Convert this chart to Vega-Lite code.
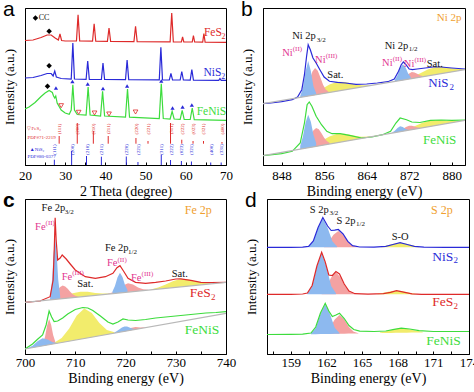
{
"$schema": "https://vega.github.io/schema/vega-lite/v6.json",
"padding": {"left": 2, "top": -2, "right": 0, "bottom": 0},
"config": {
  "view": {"stroke": "black", "strokeWidth": 1},
  "font": "Liberation Serif",
  "axis": {"grid": false, "domainColor": "black", "tickColor": "black", "labelColor": "black", "titleColor": "black", "labelFont": "Liberation Serif", "titleFont": "Liberation Serif", "labelFontSize": 13, "titleFontSize": 14, "titleFontWeight": "normal", "labelOverlap": false, "labelFlush": false},
  "axisY": {"labels": false, "ticks": false, "titleFontSize": 13, "titlePadding": 9},
  "axisX": {"tickSize": -3, "labelPadding": 7, "titlePadding": 2},
  "title": {"font": "Liberation Sans", "fontSize": 21, "fontWeight": "normal", "anchor": "start", "frame": "group", "baseline": "alphabetic", "offset": -12, "dx": -22, "color": "black"}
},
"datasets": {
  "aL": [
    {"s":"FeS2","x":20,"y":124.5},{"s":"FeS2","x":22,"y":125},{"s":"FeS2","x":24,"y":127.5},{"s":"FeS2","x":25.5,"y":130},{"s":"FeS2","x":26.5,"y":130},{"s":"FeS2","x":27.5,"y":127},{"s":"FeS2","x":28.3,"y":125},{"s":"FeS2","x":28.7,"y":131},{"s":"FeS2","x":29.1,"y":124.5},{"s":"FeS2","x":30,"y":124},{"s":"FeS2","x":32.8,"y":124},{"s":"FeS2","x":33.2,"y":150.3},{"s":"FeS2","x":33.6,"y":124},{"s":"FeS2","x":36.8,"y":123.8},{"s":"FeS2","x":37.2,"y":141.3},{"s":"FeS2","x":37.6,"y":123.8},{"s":"FeS2","x":40.5,"y":123.6},{"s":"FeS2","x":40.9,"y":137},{"s":"FeS2","x":41.3,"y":123.6},{"s":"FeS2","x":47.1,"y":123.4},{"s":"FeS2","x":47.5,"y":138.7},{"s":"FeS2","x":47.9,"y":123.4},{"s":"FeS2","x":56.1,"y":123.2},{"s":"FeS2","x":56.5,"y":152},{"s":"FeS2","x":56.9,"y":123.2},{"s":"FeS2","x":58.9,"y":123},{"s":"FeS2","x":59.2,"y":128},{"s":"FeS2","x":59.5,"y":123},{"s":"FeS2","x":61.6,"y":123},{"s":"FeS2","x":61.9,"y":129.3},{"s":"FeS2","x":62.2,"y":123},{"s":"FeS2","x":64.2,"y":122.9},{"s":"FeS2","x":64.5,"y":131.3},{"s":"FeS2","x":64.8,"y":122.9},{"s":"FeS2","x":70,"y":122.7},
    {"s":"NiS2","x":20,"y":87},{"s":"NiS2","x":22,"y":87.5},{"s":"NiS2","x":24,"y":89.5},{"s":"NiS2","x":25.5,"y":91.5},{"s":"NiS2","x":26.5,"y":91.5},{"s":"NiS2","x":27.0,"y":89},{"s":"NiS2","x":27.4,"y":94},{"s":"NiS2","x":27.8,"y":88},{"s":"NiS2","x":29,"y":86.5},{"s":"NiS2","x":31.5,"y":86},{"s":"NiS2","x":31.9,"y":122},{"s":"NiS2","x":32.3,"y":86},{"s":"NiS2","x":35.2,"y":85.7},{"s":"NiS2","x":35.6,"y":104},{"s":"NiS2","x":36.0,"y":85.7},{"s":"NiS2","x":39.0,"y":85.5},{"s":"NiS2","x":39.4,"y":102},{"s":"NiS2","x":39.8,"y":85.5},{"s":"NiS2","x":45.0,"y":85.3},{"s":"NiS2","x":45.4,"y":105},{"s":"NiS2","x":45.8,"y":85.3},{"s":"NiS2","x":53.4,"y":85.1},{"s":"NiS2","x":53.8,"y":117.7},{"s":"NiS2","x":54.2,"y":85.1},{"s":"NiS2","x":55.9,"y":85},{"s":"NiS2","x":56.3,"y":91.5},{"s":"NiS2","x":56.7,"y":85},{"s":"NiS2","x":58.6,"y":85},{"s":"NiS2","x":59.0,"y":93.5},{"s":"NiS2","x":59.4,"y":85},{"s":"NiS2","x":61.1,"y":84.9},{"s":"NiS2","x":61.5,"y":95.3},{"s":"NiS2","x":61.9,"y":84.9},{"s":"NiS2","x":68.2,"y":84.7},{"s":"NiS2","x":68.5,"y":86.5},{"s":"NiS2","x":68.8,"y":84.7},{"s":"NiS2","x":70,"y":84.6},
    {"s":"FeNiS","x":20,"y":56},{"s":"FeNiS","x":21,"y":58},{"s":"FeNiS","x":22.5,"y":62.5},{"s":"FeNiS","x":24,"y":68.5},{"s":"FeNiS","x":25,"y":72},{"s":"FeNiS","x":26,"y":74.5},{"s":"FeNiS","x":26.8,"y":72.5},{"s":"FeNiS","x":27.1,"y":69},{"s":"FeNiS","x":27.4,"y":67},{"s":"FeNiS","x":27.65,"y":69},{"s":"FeNiS","x":28.0,"y":62},{"s":"FeNiS","x":29,"y":55},{"s":"FeNiS","x":30,"y":52},{"s":"FeNiS","x":31,"y":50.8},{"s":"FeNiS","x":31.5,"y":55},{"s":"FeNiS","x":31.9,"y":80.3},{"s":"FeNiS","x":32.3,"y":55},{"s":"FeNiS","x":33,"y":50.5},{"s":"FeNiS","x":35.2,"y":50},{"s":"FeNiS","x":35.7,"y":78},{"s":"FeNiS","x":36.2,"y":50},{"s":"FeNiS","x":38.8,"y":49},{"s":"FeNiS","x":39.3,"y":73.7},{"s":"FeNiS","x":39.8,"y":49},{"s":"FeNiS","x":45.0,"y":47.8},{"s":"FeNiS","x":45.5,"y":76},{"s":"FeNiS","x":46.0,"y":47.8},{"s":"FeNiS","x":53.4,"y":46.5},{"s":"FeNiS","x":53.9,"y":81.3},{"s":"FeNiS","x":54.4,"y":46.5},{"s":"FeNiS","x":56.1,"y":46},{"s":"FeNiS","x":56.6,"y":53.7},{"s":"FeNiS","x":57.1,"y":46},{"s":"FeNiS","x":58.6,"y":45.7},{"s":"FeNiS","x":59.1,"y":54.7},{"s":"FeNiS","x":59.6,"y":45.7},{"s":"FeNiS","x":61.1,"y":45.5},{"s":"FeNiS","x":61.6,"y":57},{"s":"FeNiS","x":62.1,"y":45.3},{"s":"FeNiS","x":70,"y":44.7}
  ],
  "aS": [
    {"c":"FeS2","h":"(111)","x":28.5,"y":29,"lo":21.3},{"c":"FeS2","h":"(200)","x":33.0,"y":42,"lo":21.3},{"c":"FeS2","h":"(210)","x":37.0,"y":34,"lo":21.3},{"c":"FeS2","h":"(211)","x":40.7,"y":29,"lo":21.3},{"c":"FeS2","h":"(220)","x":47.6,"y":27,"lo":21.3},{"c":"FeS2","h":"(221)","x":50.6,"y":24,"lo":21.3},{"c":"FeS2","h":"(311)","x":56.2,"y":42,"lo":21.3},{"c":"FeS2","h":"(222)","x":59.0,"y":25.3,"lo":21.3},{"c":"FeS2","h":"(023)","x":61.8,"y":24,"lo":21.3},{"c":"FeS2","h":"(321)","x":64.4,"y":24,"lo":21.3},{"c":"FeS2","h":"(400)","x":69.0,"y":23,"lo":21.3},
    {"c":"NiS2","h":"(111)","x":27.3,"y":5.3,"lo":0},{"c":"NiS2","h":"(200)","x":31.6,"y":14,"lo":0},{"c":"NiS2","h":"(210)","x":35.3,"y":9,"lo":0},{"c":"NiS2","h":"(211)","x":39.0,"y":8.3,"lo":0},{"c":"NiS2","h":"(220)","x":45.2,"y":8.5,"lo":0},{"c":"NiS2","h":"(221)","x":48.1,"y":3,"lo":0},{"c":"NiS2","h":"(311)","x":53.9,"y":10.3,"lo":0},{"c":"NiS2","h":"(222)","x":56.2,"y":5,"lo":0},{"c":"NiS2","h":"(023)","x":58.9,"y":4,"lo":0},{"c":"NiS2","h":"(321)","x":61.4,"y":3.5,"lo":0},{"c":"NiS2","h":"(400)","x":66.2,"y":2.5,"lo":0},{"c":"NiS2","h":"(331)","x":68.8,"y":2.5,"lo":0}
  ],
  "aP": [
    {"m":"d","x":26.0,"y":133.7},{"m":"d","x":26.0,"y":99.3},{"m":"d","x":25.6,"y":78.7},{"m":"d","x":22.6,"y":147},
    {"m":"u","x":27.7,"y":77},{"m":"u","x":31.8,"y":83.5},{"m":"u","x":35.6,"y":81},{"m":"u","x":39.4,"y":76.5},{"m":"u","x":45.4,"y":79},{"m":"u","x":53.9,"y":84},{"m":"u","x":56.7,"y":57},{"m":"u","x":59.2,"y":58},{"m":"u","x":61.5,"y":60},
    {"m":"v","x":29.0,"y":59.3},{"m":"v","x":33.35,"y":52.7},{"m":"v","x":37.3,"y":52},{"m":"v","x":40.9,"y":51},{"m":"v","x":47.5,"y":53}
  ],
  "aT": [
    {"r":"name","c":"FeS2","t":"FeS","x":64.5,"y":132},{"r":"nsub","c":"FeS2","t":"2","x":68.9,"y":128.5},
    {"r":"name","c":"NiS2","t":"NiS","x":64.4,"y":92},{"r":"nsub","c":"NiS2","t":"2","x":68.8,"y":88.5},
    {"r":"name","c":"FeNiS","t":"FeNiS","x":62.7,"y":52.7},
    {"r":"lab","c":"k","t":"CC","x":23.4,"y":147},
    {"r":"tiny","c":"FeS2","t":"▽FeS₂","x":20.6,"y":37},{"r":"tiny","c":"FeS2","t":"PDF#71-2219","x":20.6,"y":28.5},
    {"r":"tiny","c":"NiS2","t":"▲NiS₂","x":21.2,"y":16},{"r":"tiny","c":"NiS2","t":"PDF#80-0377","x":20.6,"y":9}
  ],
  "bL": [
    {"s":"NiS2","x":844.5,"y":59.3},{"s":"NiS2","x":846,"y":60},{"s":"NiS2","x":848,"y":61.3},{"s":"NiS2","x":850,"y":63.3},{"s":"NiS2","x":851,"y":66},{"s":"NiS2","x":851.8,"y":73.3},{"s":"NiS2","x":852.3,"y":88.3},{"s":"NiS2","x":852.7,"y":106.7},{"s":"NiS2","x":853.0,"y":118.3},{"s":"NiS2","x":853.4,"y":113.3},{"s":"NiS2","x":853.9,"y":105},{"s":"NiS2","x":854.5,"y":100},{"s":"NiS2","x":855.2,"y":93.3},{"s":"NiS2","x":856,"y":86},{"s":"NiS2","x":857,"y":81.7},{"s":"NiS2","x":858.5,"y":80.7},{"s":"NiS2","x":860,"y":80},{"s":"NiS2","x":862,"y":78.7},{"s":"NiS2","x":864,"y":79},{"s":"NiS2","x":866,"y":80},{"s":"NiS2","x":868,"y":81.3},{"s":"NiS2","x":869.2,"y":84},{"s":"NiS2","x":870,"y":91.7},{"s":"NiS2","x":870.5,"y":98.3},{"s":"NiS2","x":870.9,"y":101},{"s":"NiS2","x":871.4,"y":98.3},{"s":"NiS2","x":872,"y":94},{"s":"NiS2","x":872.6,"y":93.3},{"s":"NiS2","x":873.5,"y":94},{"s":"NiS2","x":875,"y":95},{"s":"NiS2","x":876.5,"y":96},{"s":"NiS2","x":878,"y":96},{"s":"NiS2","x":880,"y":95},{"s":"NiS2","x":882.5,"y":94},
    {"s":"FeNiS","x":844.5,"y":7.3},{"s":"FeNiS","x":848,"y":9.3},{"s":"FeNiS","x":850,"y":11.7},{"s":"FeNiS","x":851.5,"y":20},{"s":"FeNiS","x":852.3,"y":40},{"s":"FeNiS","x":852.8,"y":58.3},{"s":"FeNiS","x":853.2,"y":61},{"s":"FeNiS","x":853.7,"y":56.7},{"s":"FeNiS","x":854.5,"y":46.7},{"s":"FeNiS","x":855.5,"y":38.3},{"s":"FeNiS","x":856.5,"y":31.7},{"s":"FeNiS","x":857.5,"y":29.3},{"s":"FeNiS","x":859,"y":29.3},{"s":"FeNiS","x":861,"y":27.3},{"s":"FeNiS","x":863,"y":25},{"s":"FeNiS","x":865,"y":26},{"s":"FeNiS","x":867,"y":28.3},{"s":"FeNiS","x":868.5,"y":31.7},{"s":"FeNiS","x":869.5,"y":40},{"s":"FeNiS","x":870.3,"y":45},{"s":"FeNiS","x":871.5,"y":43.3},{"s":"FeNiS","x":872.5,"y":41},{"s":"FeNiS","x":874,"y":40.5},{"s":"FeNiS","x":876,"y":42.6},{"s":"FeNiS","x":878,"y":43},{"s":"FeNiS","x":880,"y":42.6},{"s":"FeNiS","x":882.5,"y":43},
    {"s":"bg1","x":844.5,"y":59.3},{"s":"bg1","x":882.5,"y":93.3},
    {"s":"bg2","x":844.5,"y":7.3},{"s":"bg2","x":882.5,"y":42.6}
  ],
  "bF": [
    {"g":"Nb1","k":"b","x":851.5,"lo":65.6,"y":67.1},{"g":"Nb1","k":"b","x":852,"lo":66.0,"y":74.7},{"g":"Nb1","k":"b","x":852.5,"lo":66.5,"y":91.2},{"g":"Nb1","k":"b","x":853,"lo":66.9,"y":101.9},{"g":"Nb1","k":"b","x":853.5,"lo":67.4,"y":92.1},{"g":"Nb1","k":"b","x":854,"lo":67.8,"y":76.5},{"g":"Nb1","k":"b","x":854.5,"lo":68.3,"y":69.8},
    {"g":"Np1","k":"p","x":852.3,"lo":66.3,"y":69.9},{"g":"Np1","k":"p","x":852.8,"lo":66.7,"y":75.5},{"g":"Np1","k":"p","x":853.3,"lo":67.2,"y":83.6},{"g":"Np1","k":"p","x":853.8,"lo":67.6,"y":91.4},{"g":"Np1","k":"p","x":854.3,"lo":68.1,"y":95.1},{"g":"Np1","k":"p","x":854.8,"lo":68.5,"y":92.3},{"g":"Np1","k":"p","x":855.3,"lo":69.0,"y":85.4},{"g":"Np1","k":"p","x":855.8,"lo":69.4,"y":78.2},{"g":"Np1","k":"p","x":856.3,"lo":69.9,"y":73.5},{"g":"Np1","k":"p","x":856.8,"lo":70.3,"y":71.5},
    {"g":"Ny1","k":"y","x":854,"lo":67.8,"y":69.7},{"g":"Ny1","k":"y","x":855.5,"lo":69.1,"y":73.7},{"g":"Ny1","k":"y","x":857,"lo":70.5,"y":78.4},{"g":"Ny1","k":"y","x":858.5,"lo":71.8,"y":81.3},{"g":"Ny1","k":"y","x":860,"lo":73.2,"y":81.1},{"g":"Ny1","k":"y","x":861.5,"lo":74.5,"y":79.1},{"g":"Ny1","k":"y","x":863,"lo":75.9,"y":77.8},{"g":"Ny1","k":"y","x":864.5,"lo":77.2,"y":77.7},{"g":"Ny1","k":"y","x":866,"lo":78.5,"y":78.6},
    {"g":"Nb2","k":"b","x":869.3,"lo":81.5,"y":83.1},{"g":"Nb2","k":"b","x":869.8,"lo":81.9,"y":87.7},{"g":"Nb2","k":"b","x":870.3,"lo":82.4,"y":94.8},{"g":"Nb2","k":"b","x":870.8,"lo":82.8,"y":98.8},{"g":"Nb2","k":"b","x":871.3,"lo":83.3,"y":95.7},{"g":"Nb2","k":"b","x":871.8,"lo":83.7,"y":89.5},{"g":"Nb2","k":"b","x":872.3,"lo":84.2,"y":85.8},
    {"g":"Np2","k":"p","x":870.5,"lo":82.6,"y":83.5},{"g":"Np2","k":"p","x":871,"lo":83.0,"y":85.1},{"g":"Np2","k":"p","x":871.5,"lo":83.5,"y":87.4},{"g":"Np2","k":"p","x":872,"lo":83.9,"y":89.6},{"g":"Np2","k":"p","x":872.5,"lo":84.4,"y":90.9},{"g":"Np2","k":"p","x":873,"lo":84.8,"y":90.5},{"g":"Np2","k":"p","x":873.5,"lo":85.3,"y":89.2},{"g":"Np2","k":"p","x":874,"lo":85.7,"y":87.8},{"g":"Np2","k":"p","x":874.5,"lo":86.2,"y":87.1},
    {"g":"Ny2","k":"y","x":872.5,"lo":84.4,"y":85.9},{"g":"Ny2","k":"y","x":874,"lo":85.7,"y":89.4},{"g":"Ny2","k":"y","x":875.5,"lo":87.1,"y":93.5},{"g":"Ny2","k":"y","x":877,"lo":88.4,"y":96.1},{"g":"Ny2","k":"y","x":878.5,"lo":89.8,"y":96.2},{"g":"Ny2","k":"y","x":880,"lo":91.1,"y":94.8},{"g":"Ny2","k":"y","x":881.5,"lo":92.5,"y":94.0},{"g":"Ny2","k":"y","x":882.5,"lo":93.4,"y":94.1},
    {"g":"Gb1","k":"b","x":851.5,"lo":13.8,"y":17.1},{"g":"Gb1","k":"b","x":852,"lo":14.3,"y":26.2},{"g":"Gb1","k":"b","x":852.5,"lo":14.7,"y":40.3},{"g":"Gb1","k":"b","x":853,"lo":15.2,"y":48.2},{"g":"Gb1","k":"b","x":853.5,"lo":15.7,"y":41.3},{"g":"Gb1","k":"b","x":854,"lo":16.1,"y":28.0},{"g":"Gb1","k":"b","x":854.5,"lo":16.6,"y":19.9},
    {"g":"Gp1","k":"p","x":852,"lo":14.3,"y":15.7},{"g":"Gp1","k":"p","x":852.5,"lo":14.7,"y":18.2},{"g":"Gp1","k":"p","x":853,"lo":15.2,"y":22.5},{"g":"Gp1","k":"p","x":853.5,"lo":15.7,"y":27.9},{"g":"Gp1","k":"p","x":854,"lo":16.1,"y":32.7},{"g":"Gp1","k":"p","x":854.5,"lo":16.6,"y":35.0},{"g":"Gp1","k":"p","x":855,"lo":17.1,"y":33.7},{"g":"Gp1","k":"p","x":855.5,"lo":17.5,"y":29.7},{"g":"Gp1","k":"p","x":856,"lo":18.0,"y":25.3},{"g":"Gp1","k":"p","x":856.5,"lo":18.5,"y":22.0},{"g":"Gp1","k":"p","x":857,"lo":18.9,"y":20.3},
    {"g":"Gy1","k":"y","x":854,"lo":16.1,"y":17.9},{"g":"Gy1","k":"y","x":855.5,"lo":17.5,"y":21.9},{"g":"Gy1","k":"y","x":857,"lo":18.9,"y":26.4},{"g":"Gy1","k":"y","x":858.5,"lo":20.3,"y":29.3},{"g":"Gy1","k":"y","x":860,"lo":21.7,"y":29.2},{"g":"Gy1","k":"y","x":861.5,"lo":23.1,"y":27.5},{"g":"Gy1","k":"y","x":863,"lo":24.5,"y":26.3},{"g":"Gy1","k":"y","x":864.5,"lo":25.9,"y":26.4},{"g":"Gy1","k":"y","x":866,"lo":27.3,"y":27.4},
    {"g":"Gb2","k":"b","x":868.8,"lo":29.9,"y":30.4},{"g":"Gb2","k":"b","x":869.3,"lo":30.4,"y":32.3},{"g":"Gb2","k":"b","x":869.8,"lo":30.8,"y":35.0},{"g":"Gb2","k":"b","x":870.3,"lo":31.3,"y":36.7},{"g":"Gb2","k":"b","x":870.8,"lo":31.8,"y":36.0},{"g":"Gb2","k":"b","x":871.3,"lo":32.2,"y":34.1},{"g":"Gb2","k":"b","x":871.8,"lo":32.7,"y":33.2},
    {"g":"Gp2","k":"p","x":870,"lo":31.0,"y":31.6},{"g":"Gp2","k":"p","x":870.5,"lo":31.5,"y":32.9},{"g":"Gp2","k":"p","x":871,"lo":32.0,"y":34.7},{"g":"Gp2","k":"p","x":871.5,"lo":32.4,"y":36.3},{"g":"Gp2","k":"p","x":872,"lo":32.9,"y":37.3},{"g":"Gp2","k":"p","x":872.5,"lo":33.3,"y":37.2},{"g":"Gp2","k":"p","x":873,"lo":33.8,"y":36.5},{"g":"Gp2","k":"p","x":873.5,"lo":34.3,"y":35.7},{"g":"Gp2","k":"p","x":874,"lo":34.7,"y":35.3},
    {"g":"Gy2","k":"y","x":871.5,"lo":32.4,"y":33.6},{"g":"Gy2","k":"y","x":873,"lo":33.8,"y":36.7},{"g":"Gy2","k":"y","x":874.5,"lo":35.2,"y":40.2},{"g":"Gy2","k":"y","x":876,"lo":36.6,"y":42.6},{"g":"Gy2","k":"y","x":877.5,"lo":38.0,"y":43.0},{"g":"Gy2","k":"y","x":879,"lo":39.4,"y":42.3},{"g":"Gy2","k":"y","x":880.5,"lo":40.8,"y":42.0},{"g":"Gy2","k":"y","x":882,"lo":42.2,"y":42.5},{"g":"Gy2","k":"y","x":882.5,"lo":42.6,"y":42.8}
  ],
  "bT": [
    {"r":"core","c":"o","t":"Ni 2p","x":877.2,"y":145},
    {"r":"lab","c":"k","t":"Ni 2p","x":850.0,"y":126.7},{"r":"lsub","c":"k","t":"3/2","x":854.6,"y":123},
    {"r":"lab","c":"m","t":"Ni","x":848.1,"y":110},{"r":"lsub","c":"m","t":"(II)","x":850.1,"y":114.5},
    {"r":"lab","c":"m","t":"Ni","x":854.3,"y":103.3},{"r":"lsub","c":"m","t":"(III)","x":856.3,"y":107.5},
    {"r":"lab","c":"k","t":"Sat.","x":856.6,"y":88.3},
    {"r":"lab","c":"k","t":"Ni 2p","x":867.4,"y":117.3},{"r":"lsub","c":"k","t":"1/2","x":871.9,"y":113.8},
    {"r":"lab","c":"m","t":"Ni","x":866.9,"y":100},{"r":"lsub","c":"m","t":"(II)","x":868.9,"y":104.3},
    {"r":"lab","c":"m","t":"Ni","x":871.0,"y":99},{"r":"lsub","c":"m","t":"(III)","x":873.0,"y":103},
    {"r":"lab","c":"k","t":"Sat.","x":875.3,"y":99},
    {"r":"name","c":"NiS2","t":"NiS","x":875.6,"y":80},{"r":"nsub","c":"NiS2","t":"2","x":879.6,"y":76.5},
    {"r":"name","c":"FeNiS","t":"FeNiS","x":874.6,"y":23.3}
  ],
  "cL": [
    {"s":"FeS2","x":700,"y":47.7},{"s":"FeS2","x":703,"y":49},{"s":"FeS2","x":705,"y":53.3},{"s":"FeS2","x":705.6,"y":70},{"s":"FeS2","x":705.85,"y":105},{"s":"FeS2","x":706.0,"y":132.3},{"s":"FeS2","x":706.2,"y":110},{"s":"FeS2","x":706.5,"y":90},{"s":"FeS2","x":707,"y":92},{"s":"FeS2","x":707.4,"y":95},{"s":"FeS2","x":708.2,"y":91},{"s":"FeS2","x":709,"y":86},{"s":"FeS2","x":710,"y":80},{"s":"FeS2","x":712,"y":73.3},{"s":"FeS2","x":714,"y":71.7},{"s":"FeS2","x":716,"y":73.3},{"s":"FeS2","x":717.5,"y":76.7},{"s":"FeS2","x":718.3,"y":82.3},{"s":"FeS2","x":718.9,"y":84.3},{"s":"FeS2","x":719.6,"y":79},{"s":"FeS2","x":720.5,"y":71.7},{"s":"FeS2","x":722,"y":67.7},{"s":"FeS2","x":724,"y":66.7},{"s":"FeS2","x":726,"y":67.7},{"s":"FeS2","x":728,"y":69},{"s":"FeS2","x":730,"y":71},{"s":"FeS2","x":731,"y":71.2},{"s":"FeS2","x":733,"y":69.7},{"s":"FeS2","x":735,"y":67.7},{"s":"FeS2","x":737,"y":67.3},{"s":"FeS2","x":740,"y":67.7},
    {"s":"FeNiS","x":700,"y":1},{"s":"FeNiS","x":701.5,"y":6},{"s":"FeNiS","x":702.5,"y":10.7},{"s":"FeNiS","x":703.5,"y":15},{"s":"FeNiS","x":704.2,"y":25},{"s":"FeNiS","x":704.8,"y":39},{"s":"FeNiS","x":705.3,"y":33},{"s":"FeNiS","x":705.8,"y":28.5},{"s":"FeNiS","x":706.5,"y":29},{"s":"FeNiS","x":707.5,"y":32},{"s":"FeNiS","x":708.5,"y":36},{"s":"FeNiS","x":710,"y":40.5},{"s":"FeNiS","x":711.5,"y":42.5},{"s":"FeNiS","x":712.5,"y":42},{"s":"FeNiS","x":713.5,"y":39.5},{"s":"FeNiS","x":715,"y":34},{"s":"FeNiS","x":716.5,"y":28},{"s":"FeNiS","x":717.5,"y":26},{"s":"FeNiS","x":718.5,"y":28},{"s":"FeNiS","x":719.5,"y":31},{"s":"FeNiS","x":720.5,"y":30},{"s":"FeNiS","x":722,"y":29.5},{"s":"FeNiS","x":724,"y":30.5},{"s":"FeNiS","x":726,"y":32},{"s":"FeNiS","x":728,"y":33},{"s":"FeNiS","x":730,"y":34},{"s":"FeNiS","x":732,"y":35},{"s":"FeNiS","x":734,"y":36},{"s":"FeNiS","x":736,"y":37},{"s":"FeNiS","x":738,"y":37.5},{"s":"FeNiS","x":740,"y":38.3},
    {"s":"bg1","x":700,"y":47.7},{"s":"bg1","x":740,"y":67.7},
    {"s":"bg2","x":700,"y":1},{"s":"bg2","x":740,"y":36.6}
  ],
  "cF": [
    {"g":"Fb1","k":"b","x":705,"lo":50.2,"y":52.9},{"g":"Fb1","k":"b","x":705.4,"lo":50.4,"y":70.2},{"g":"Fb1","k":"b","x":705.7,"lo":50.55,"y":96.7},{"g":"Fb1","k":"b","x":706,"lo":50.7,"y":111.7},{"g":"Fb1","k":"b","x":706.3,"lo":50.85,"y":97.0},{"g":"Fb1","k":"b","x":706.6,"lo":51.0,"y":70.8},{"g":"Fb1","k":"b","x":707,"lo":51.2,"y":53.9},
    {"g":"Fp1","k":"p","x":705,"lo":50.2,"y":51.7},{"g":"Fp1","k":"p","x":705.5,"lo":50.45,"y":53.7},{"g":"Fp1","k":"p","x":706,"lo":50.7,"y":56.7},{"g":"Fp1","k":"p","x":706.5,"lo":50.95,"y":60.2},{"g":"Fp1","k":"p","x":707,"lo":51.2,"y":63.1},{"g":"Fp1","k":"p","x":707.5,"lo":51.45,"y":64.5},{"g":"Fp1","k":"p","x":708,"lo":51.7,"y":63.6},{"g":"Fp1","k":"p","x":708.5,"lo":51.95,"y":61.2},{"g":"Fp1","k":"p","x":709,"lo":52.2,"y":58.2},{"g":"Fp1","k":"p","x":709.5,"lo":52.45,"y":55.7},{"g":"Fp1","k":"p","x":710,"lo":52.7,"y":54.2},{"g":"Fp1","k":"p","x":710.5,"lo":52.95,"y":53.6},
    {"g":"Fy1","k":"y","x":706.5,"lo":50.95,"y":52.0},{"g":"Fy1","k":"y","x":708,"lo":51.7,"y":54.1},{"g":"Fy1","k":"y","x":709.5,"lo":52.45,"y":56.7},{"g":"Fy1","k":"y","x":711,"lo":53.2,"y":58.2},{"g":"Fy1","k":"y","x":712.5,"lo":53.95,"y":58.2},{"g":"Fy1","k":"y","x":714,"lo":54.7,"y":57.1},{"g":"Fy1","k":"y","x":715.5,"lo":55.45,"y":56.5},{"g":"Fy1","k":"y","x":717,"lo":56.2,"y":56.5},
    {"g":"Fb2","k":"b","x":717.4,"lo":56.4,"y":58.4},{"g":"Fb2","k":"b","x":717.9,"lo":56.65,"y":63.9},{"g":"Fb2","k":"b","x":718.4,"lo":56.9,"y":72.4},{"g":"Fb2","k":"b","x":718.9,"lo":57.15,"y":77.2},{"g":"Fb2","k":"b","x":719.4,"lo":57.4,"y":72.9},{"g":"Fb2","k":"b","x":719.9,"lo":57.65,"y":64.9},{"g":"Fb2","k":"b","x":720.4,"lo":57.9,"y":59.9},
    {"g":"Fp2","k":"p","x":716.5,"lo":55.95,"y":56.2},{"g":"Fp2","k":"p","x":717.5,"lo":56.45,"y":57.7},{"g":"Fp2","k":"p","x":718.5,"lo":56.95,"y":60.6},{"g":"Fp2","k":"p","x":719.5,"lo":57.45,"y":64.5},{"g":"Fp2","k":"p","x":720.5,"lo":57.95,"y":66.7},{"g":"Fp2","k":"p","x":721.5,"lo":58.45,"y":65.5},{"g":"Fp2","k":"p","x":722.5,"lo":58.95,"y":62.6},{"g":"Fp2","k":"p","x":723.5,"lo":59.45,"y":60.7},{"g":"Fp2","k":"p","x":724.5,"lo":59.95,"y":60.2},
    {"g":"Fy2","k":"y","x":725,"lo":60.2,"y":60.6},{"g":"Fy2","k":"y","x":726.5,"lo":60.95,"y":62.5},{"g":"Fy2","k":"y","x":728,"lo":61.7,"y":65.5},{"g":"Fy2","k":"y","x":729.5,"lo":62.45,"y":69.0},{"g":"Fy2","k":"y","x":731,"lo":63.2,"y":71.0},{"g":"Fy2","k":"y","x":732.5,"lo":63.95,"y":70.5},{"g":"Fy2","k":"y","x":734,"lo":64.7,"y":68.5},{"g":"Fy2","k":"y","x":735.5,"lo":65.45,"y":67.0},{"g":"Fy2","k":"y","x":737,"lo":66.2,"y":66.6},
    {"g":"Gb1","k":"b","x":700.5,"lo":1.45,"y":1.75},{"g":"Gb1","k":"b","x":701.5,"lo":2.35,"y":4.25},{"g":"Gb1","k":"b","x":702.5,"lo":3.25,"y":8.65},{"g":"Gb1","k":"b","x":703.5,"lo":4.1,"y":11.7},{"g":"Gb1","k":"b","x":704.5,"lo":5.0,"y":10.4},{"g":"Gb1","k":"b","x":705.5,"lo":5.9,"y":7.8},{"g":"Gb1","k":"b","x":706.5,"lo":6.8,"y":7.1},
    {"g":"Gp1","k":"p","x":703.6,"lo":4.2,"y":6.6},{"g":"Gp1","k":"p","x":704.0,"lo":4.6,"y":13.5},{"g":"Gp1","k":"p","x":704.4,"lo":4.9,"y":24.6},{"g":"Gp1","k":"p","x":704.8,"lo":5.3,"y":31.0},{"g":"Gp1","k":"p","x":705.2,"lo":5.6,"y":25.3},{"g":"Gp1","k":"p","x":705.6,"lo":6.0,"y":14.9},{"g":"Gp1","k":"p","x":706.0,"lo":6.3,"y":8.7},
    {"g":"Gy1","k":"y","x":705.8,"lo":6.2,"y":7.2},{"g":"Gy1","k":"y","x":707.3,"lo":7.5,"y":11.9},{"g":"Gy1","k":"y","x":708.8,"lo":8.8,"y":21.6},{"g":"Gy1","k":"y","x":710.3,"lo":10.2,"y":34.4},{"g":"Gy1","k":"y","x":711.8,"lo":11.5,"y":41.5},{"g":"Gy1","k":"y","x":713.3,"lo":12.8,"y":37.0},{"g":"Gy1","k":"y","x":714.8,"lo":14.2,"y":27.0},{"g":"Gy1","k":"y","x":716.3,"lo":15.5,"y":19.9},{"g":"Gy1","k":"y","x":717.8,"lo":16.8,"y":17.8},
    {"g":"Gb2","k":"b","x":717.8,"lo":16.8,"y":17.5},{"g":"Gb2","k":"b","x":718.3,"lo":17.3,"y":18.9},{"g":"Gb2","k":"b","x":718.8,"lo":17.7,"y":20.7},{"g":"Gb2","k":"b","x":719.3,"lo":18.2,"y":22.6},{"g":"Gb2","k":"b","x":719.8,"lo":18.6,"y":23.6},{"g":"Gb2","k":"b","x":720.3,"lo":19.1,"y":23.5},{"g":"Gb2","k":"b","x":720.8,"lo":19.5,"y":22.5},{"g":"Gb2","k":"b","x":721.3,"lo":20.0,"y":21.6},{"g":"Gb2","k":"b","x":721.8,"lo":20.4,"y":21.1},
    {"g":"Gp2","k":"p","x":719,"lo":17.9,"y":18.2},{"g":"Gp2","k":"p","x":720,"lo":18.8,"y":19.9},{"g":"Gp2","k":"p","x":721,"lo":19.7,"y":22.0},{"g":"Gp2","k":"p","x":722,"lo":20.6,"y":22.9},{"g":"Gp2","k":"p","x":723,"lo":21.5,"y":22.6},{"g":"Gp2","k":"p","x":724,"lo":22.4,"y":22.7}
  ],
  "cT": [
    {"r":"core","c":"o","t":"Fe 2p","x":731.8,"y":140},
    {"r":"lab","c":"k","t":"Fe 2p","x":703.3,"y":141.7},{"r":"lsub","c":"k","t":"3/2","x":707.9,"y":138},
    {"r":"lab","c":"m","t":"Fe","x":702.0,"y":123.3},{"r":"lsub","c":"m","t":"(II)","x":704.1,"y":127},
    {"r":"lab","c":"m","t":"Fe","x":707.3,"y":73.3},{"r":"lsub","c":"m","t":"(III)","x":709.4,"y":77.5},
    {"r":"lab","c":"k","t":"Sat.","x":710.4,"y":65.7},
    {"r":"lab","c":"k","t":"Fe 2p","x":715.9,"y":101.7},{"r":"lsub","c":"k","t":"1/2","x":720.5,"y":98},
    {"r":"lab","c":"m","t":"Fe","x":716.3,"y":86.7},{"r":"lsub","c":"m","t":"(II)","x":718.4,"y":90.5},
    {"r":"lab","c":"m","t":"Fe","x":721.1,"y":72.3},{"r":"lsub","c":"m","t":"(III)","x":723.2,"y":76.3},
    {"r":"lab","c":"k","t":"Sat.","x":729.2,"y":76},
    {"r":"name","c":"FeS2","t":"FeS","x":732.8,"y":56.7},{"r":"nsub","c":"FeS2","t":"2","x":737.0,"y":53},
    {"r":"name","c":"FeNiS","t":"FeNiS","x":731.8,"y":20}
  ],
  "dL": [
    {"s":"NiS2","x":157,"y":102.7},{"s":"NiS2","x":159,"y":102.7},{"s":"NiS2","x":160,"y":102.9},{"s":"NiS2","x":160.5,"y":103.6},{"s":"NiS2","x":160.9,"y":109},{"s":"NiS2","x":161.3,"y":122.5},{"s":"NiS2","x":161.7,"y":132.5},{"s":"NiS2","x":162.1,"y":124},{"s":"NiS2","x":162.4,"y":119.5},{"s":"NiS2","x":162.7,"y":119.8},{"s":"NiS2","x":163.0,"y":120.5},{"s":"NiS2","x":163.4,"y":116},{"s":"NiS2","x":163.8,"y":108.6},{"s":"NiS2","x":164.2,"y":104.3},{"s":"NiS2","x":164.8,"y":103},{"s":"NiS2","x":166,"y":102.9},{"s":"NiS2","x":167,"y":103.6},{"s":"NiS2","x":167.6,"y":105.5},{"s":"NiS2","x":168.2,"y":107.3},{"s":"NiS2","x":168.8,"y":105.5},{"s":"NiS2","x":169.4,"y":103.6},{"s":"NiS2","x":170.2,"y":102.8},{"s":"NiS2","x":172,"y":102.7},{"s":"NiS2","x":174,"y":102.7},
    {"s":"FeS2","x":157,"y":55.7},{"s":"FeS2","x":159,"y":55.7},{"s":"FeS2","x":160,"y":56},{"s":"FeS2","x":160.4,"y":57},{"s":"FeS2","x":160.8,"y":64.5},{"s":"FeS2","x":161.2,"y":84},{"s":"FeS2","x":161.6,"y":97.7},{"s":"FeS2","x":161.9,"y":88},{"s":"FeS2","x":162.2,"y":75},{"s":"FeS2","x":162.5,"y":74.5},{"s":"FeS2","x":162.8,"y":78.5},{"s":"FeS2","x":163.1,"y":76},{"s":"FeS2","x":163.5,"y":66},{"s":"FeS2","x":163.9,"y":59},{"s":"FeS2","x":164.4,"y":56.3},{"s":"FeS2","x":165.5,"y":55.8},{"s":"FeS2","x":166.8,"y":56.3},{"s":"FeS2","x":167.4,"y":57.7},{"s":"FeS2","x":167.9,"y":59.3},{"s":"FeS2","x":168.5,"y":57.9},{"s":"FeS2","x":169.2,"y":56.2},{"s":"FeS2","x":170,"y":55.7},{"s":"FeS2","x":174,"y":55.7},
    {"s":"FeNiS","x":157,"y":15.5},{"s":"FeNiS","x":159,"y":15.6},{"s":"FeNiS","x":160,"y":15.8},{"s":"FeNiS","x":160.7,"y":17},{"s":"FeNiS","x":161.1,"y":23},{"s":"FeNiS","x":161.5,"y":37},{"s":"FeNiS","x":161.9,"y":46.7},{"s":"FeNiS","x":162.2,"y":39},{"s":"FeNiS","x":162.5,"y":33.5},{"s":"FeNiS","x":162.8,"y":35},{"s":"FeNiS","x":163.1,"y":36.7},{"s":"FeNiS","x":163.5,"y":31.5},{"s":"FeNiS","x":163.9,"y":24.5},{"s":"FeNiS","x":164.3,"y":20.5},{"s":"FeNiS","x":164.8,"y":18.8},{"s":"FeNiS","x":166,"y":18.5},{"s":"FeNiS","x":167,"y":19},{"s":"FeNiS","x":167.7,"y":20.6},{"s":"FeNiS","x":168.3,"y":21.9},{"s":"FeNiS","x":169,"y":21},{"s":"FeNiS","x":169.8,"y":19.3},{"s":"FeNiS","x":171,"y":18.5},{"s":"FeNiS","x":174,"y":18.5}
  ],
  "dF": [
    {"g":"Nb","k":"b","x":160.5,"lo":102.7,"y":103.5},{"g":"Nb","k":"b","x":160.9,"lo":102.7,"y":108.7},{"g":"Nb","k":"b","x":161.3,"lo":102.7,"y":122.2},{"g":"Nb","k":"b","x":161.7,"lo":102.7,"y":131.7},{"g":"Nb","k":"b","x":162.1,"lo":102.7,"y":122.2},{"g":"Nb","k":"b","x":162.5,"lo":102.7,"y":108.7},{"g":"Nb","k":"b","x":162.9,"lo":102.7,"y":103.5},
    {"g":"Np","k":"p","x":161.8,"lo":102.7,"y":104.2},{"g":"Np","k":"p","x":162.2,"lo":102.7,"y":108.4},{"g":"Np","k":"p","x":162.6,"lo":102.7,"y":115.2},{"g":"Np","k":"p","x":163.0,"lo":102.7,"y":119.0},{"g":"Np","k":"p","x":163.4,"lo":102.7,"y":115.2},{"g":"Np","k":"p","x":163.8,"lo":102.7,"y":108.4},{"g":"Np","k":"p","x":164.2,"lo":102.7,"y":104.2},{"g":"Np","k":"p","x":164.6,"lo":102.7,"y":102.9},
    {"g":"Ny","k":"y","x":166.6,"lo":102.7,"y":103.3},{"g":"Ny","k":"y","x":167.0,"lo":102.7,"y":104.2},{"g":"Ny","k":"y","x":167.4,"lo":102.7,"y":105.5},{"g":"Ny","k":"y","x":167.8,"lo":102.7,"y":106.8},{"g":"Ny","k":"y","x":168.2,"lo":102.7,"y":107.3},{"g":"Ny","k":"y","x":168.6,"lo":102.7,"y":106.8},{"g":"Ny","k":"y","x":169.0,"lo":102.7,"y":105.5},{"g":"Ny","k":"y","x":169.4,"lo":102.7,"y":104.2},{"g":"Ny","k":"y","x":169.8,"lo":102.7,"y":103.3},
    {"g":"Fb","k":"b","x":160.4,"lo":55.7,"y":56.8},{"g":"Fb","k":"b","x":160.8,"lo":55.7,"y":64.1},{"g":"Fb","k":"b","x":161.2,"lo":55.7,"y":83.3},{"g":"Fb","k":"b","x":161.6,"lo":55.7,"y":96.7},{"g":"Fb","k":"b","x":162.0,"lo":55.7,"y":83.3},{"g":"Fb","k":"b","x":162.4,"lo":55.7,"y":64.1},{"g":"Fb","k":"b","x":162.8,"lo":55.7,"y":56.8},
    {"g":"Fp","k":"p","x":161.6,"lo":55.7,"y":57.7},{"g":"Fp","k":"p","x":162.0,"lo":55.7,"y":63.3},{"g":"Fp","k":"p","x":162.4,"lo":55.7,"y":72.6},{"g":"Fp","k":"p","x":162.8,"lo":55.7,"y":77.7},{"g":"Fp","k":"p","x":163.2,"lo":55.7,"y":72.6},{"g":"Fp","k":"p","x":163.6,"lo":55.7,"y":63.3},{"g":"Fp","k":"p","x":164.0,"lo":55.7,"y":57.7},{"g":"Fp","k":"p","x":164.4,"lo":55.7,"y":56.0},
    {"g":"Fy","k":"y","x":166.3,"lo":55.7,"y":56.2},{"g":"Fy","k":"y","x":166.7,"lo":55.7,"y":56.9},{"g":"Fy","k":"y","x":167.1,"lo":55.7,"y":57.9},{"g":"Fy","k":"y","x":167.5,"lo":55.7,"y":58.9},{"g":"Fy","k":"y","x":167.9,"lo":55.7,"y":59.3},{"g":"Fy","k":"y","x":168.3,"lo":55.7,"y":58.9},{"g":"Fy","k":"y","x":168.7,"lo":55.7,"y":57.9},{"g":"Fy","k":"y","x":169.1,"lo":55.7,"y":56.9},{"g":"Fy","k":"y","x":169.5,"lo":55.7,"y":56.2},
    {"g":"Gb","k":"b","x":160.7,"lo":15.74,"y":16.5},{"g":"Gb","k":"b","x":161.1,"lo":15.82,"y":21.9},{"g":"Gb","k":"b","x":161.5,"lo":15.9,"y":35.9},{"g":"Gb","k":"b","x":161.9,"lo":15.98,"y":45.7},{"g":"Gb","k":"b","x":162.3,"lo":16.06,"y":36.1},{"g":"Gb","k":"b","x":162.7,"lo":16.14,"y":22.2},{"g":"Gb","k":"b","x":163.1,"lo":16.22,"y":17.0},
    {"g":"Gp","k":"p","x":161.9,"lo":15.98,"y":17.7},{"g":"Gp","k":"p","x":162.3,"lo":16.06,"y":22.6},{"g":"Gp","k":"p","x":162.7,"lo":16.14,"y":30.5},{"g":"Gp","k":"p","x":163.1,"lo":16.22,"y":35.0},{"g":"Gp","k":"p","x":163.5,"lo":16.3,"y":30.7},{"g":"Gp","k":"p","x":163.9,"lo":16.38,"y":22.9},{"g":"Gp","k":"p","x":164.3,"lo":16.46,"y":18.2},{"g":"Gp","k":"p","x":164.7,"lo":16.54,"y":16.8},
    {"g":"Gy","k":"y","x":166.5,"lo":16.9,"y":17.5},{"g":"Gy","k":"y","x":166.95,"lo":16.99,"y":18.4},{"g":"Gy","k":"y","x":167.4,"lo":17.08,"y":19.8},{"g":"Gy","k":"y","x":167.85,"lo":17.17,"y":21.1},{"g":"Gy","k":"y","x":168.3,"lo":17.26,"y":21.7},{"g":"Gy","k":"y","x":168.75,"lo":17.35,"y":21.3},{"g":"Gy","k":"y","x":169.2,"lo":17.44,"y":20.1},{"g":"Gy","k":"y","x":169.65,"lo":17.53,"y":18.9},{"g":"Gy","k":"y","x":170.1,"lo":17.62,"y":18.2}
  ],
  "dT": [
    {"r":"core","c":"o","t":"S 2p","x":170.8,"y":140},
    {"r":"lab","c":"k","t":"S 2p","x":160.6,"y":140},{"r":"lsub","c":"k","t":"3/2","x":162.25,"y":136.7},
    {"r":"lab","c":"k","t":"S 2p","x":162.85,"y":129},{"r":"lsub","c":"k","t":"1/2","x":164.5,"y":125.7},
    {"r":"lab","c":"k","t":"S-O","x":167.5,"y":112.7},
    {"r":"name","c":"NiS2","t":"NiS","x":170.9,"y":93.3},{"r":"nsub","c":"NiS2","t":"2","x":172.7,"y":89.7},
    {"r":"name","c":"FeS2","t":"FeS","x":170.9,"y":47.7},{"r":"nsub","c":"FeS2","t":"2","x":172.7,"y":44},
    {"r":"name","c":"FeNiS","t":"FeNiS","x":170.4,"y":9.3}
  ]
},
"spacing": -10,
"vconcat": [
  {"spacing": 7, "hconcat": [
    {"width": 201, "height": 157,
     "title": {"text": "a"},
     "encoding": {
       "x": {"field": "x", "type": "quantitative", "scale": {"domain": [20, 70], "nice": false, "zero": false}, "axis": {"title": "2 Theta (degree)", "values": [20,25,30,35,40,45,50,55,60,65,70], "labelExpr": "datum.value % 10 === 0 ? datum.label : ''"}},
       "y": {"field": "y", "type": "quantitative", "scale": {"domain": [0, 157], "nice": false, "zero": false}, "axis": {"title": "Intensity (a.u.)"}}
     },
     "layer": [
       {"data": {"name": "aS"}, "mark": {"type": "rule", "strokeWidth": 1}, "encoding": {"y2": {"field": "lo"}, "color": {"field": "c", "type": "nominal", "scale": {"domain": ["FeS2","NiS2","FeNiS","bg1","bg2","k","m","o"], "range": ["#de2a2a","#2a2ad8","#3ddc3d","#b8b8b8","#b8b8b8","#111111","#e2348f","#f0a030"]}, "legend": null}}},
       {"data": {"name": "aS"}, "transform": [{"filter": "datum.c == 'FeS2'"}], "mark": {"type": "text", "angle": 270, "fontSize": 5, "dx": 3, "align": "center", "baseline": "middle", "color": "#de2a2a"}, "encoding": {"y": {"datum": 33}, "text": {"field": "h"}}},
       {"data": {"name": "aS"}, "transform": [{"filter": "datum.c == 'NiS2'"}], "mark": {"type": "text", "angle": 270, "fontSize": 5, "dx": 3, "align": "center", "baseline": "middle", "color": "#2a2ad8"}, "encoding": {"y": {"datum": 12.5}, "text": {"field": "h"}}},
       {"data": {"values": [{"k": 1}]}, "mark": {"type": "rule", "color": "black", "strokeWidth": 1}, "encoding": {"x": {"datum": 20}, "x2": {"datum": 70}, "y": {"datum": 21.3}}},
       {"data": {"name": "aL"}, "mark": {"type": "line", "strokeWidth": 1.2, "clip": true}, "encoding": {"color": {"field": "s", "type": "nominal", "scale": {"domain": ["FeS2","NiS2","FeNiS","bg1","bg2","k","m","o"], "range": ["#de2a2a","#2a2ad8","#3ddc3d","#b8b8b8","#b8b8b8","#111111","#e2348f","#f0a030"]}, "legend": null}}},
       {"data": {"name": "aP"}, "transform": [{"filter": "datum.m == 'd'"}], "mark": {"type": "point", "shape": "diamond", "filled": true, "color": "black", "size": 30, "opacity": 1}},
       {"data": {"name": "aP"}, "transform": [{"filter": "datum.m == 'u'"}], "mark": {"type": "point", "shape": "triangle-up", "filled": true, "color": "#2a2ad8", "size": 18, "opacity": 1}},
       {"data": {"name": "aP"}, "transform": [{"filter": "datum.m == 'v'"}], "mark": {"type": "point", "shape": "triangle-down", "filled": false, "color": "#de2a2a", "size": 22, "strokeWidth": 0.8, "opacity": 1}},
       {"data": {"name": "aT"}, "transform": [{"filter": "datum.r == 'name'"}], "mark": {"type": "text", "align": "left", "baseline": "middle", "fontSize": 11.5}, "encoding": {"text": {"field": "t"}, "color": {"field": "c", "type": "nominal", "scale": {"domain": ["FeS2","NiS2","FeNiS","bg1","bg2","k","m","o"], "range": ["#de2a2a","#2a2ad8","#3ddc3d","#b8b8b8","#b8b8b8","#111111","#e2348f","#f0a030"]}, "legend": null}}},
       {"data": {"name": "aT"}, "transform": [{"filter": "datum.r == 'nsub' || datum.r == 'lab'"}], "mark": {"type": "text", "align": "left", "baseline": "middle", "fontSize": 8}, "encoding": {"text": {"field": "t"}, "color": {"field": "c", "type": "nominal", "scale": {"domain": ["FeS2","NiS2","FeNiS","bg1","bg2","k","m","o"], "range": ["#de2a2a","#2a2ad8","#3ddc3d","#b8b8b8","#b8b8b8","#111111","#e2348f","#f0a030"]}, "legend": null}}},
       {"data": {"name": "aT"}, "transform": [{"filter": "datum.r == 'tiny'"}], "mark": {"type": "text", "align": "left", "baseline": "middle", "fontSize": 5}, "encoding": {"text": {"field": "t"}, "color": {"field": "c", "type": "nominal", "scale": {"domain": ["FeS2","NiS2","FeNiS","bg1","bg2","k","m","o"], "range": ["#de2a2a","#2a2ad8","#3ddc3d","#b8b8b8","#b8b8b8","#111111","#e2348f","#f0a030"]}, "legend": null}}}
     ]},
    {"width": 202, "height": 157,
     "title": {"text": "b"},
     "encoding": {
       "x": {"field": "x", "type": "quantitative", "scale": {"domain": [844.5, 882.5], "nice": false, "zero": false}, "axis": {"title": "Binding energy (eV)", "values": [848,852,856,860,864,868,872,876,880], "labelExpr": "datum.value % 8 === 0 ? datum.label : ''"}},
       "y": {"field": "y", "type": "quantitative", "scale": {"domain": [-2, 155], "nice": false, "zero": false}, "axis": {"title": "Intensity (a.u.)"}}
     },
     "layer": [
       {"data": {"name": "bF"}, "transform": [{"filter": "datum.k == 'y'"}], "mark": {"type": "area", "color": "#f2ec6c", "opacity": 1}, "encoding": {"y2": {"field": "lo"}, "detail": {"field": "g"}}},
       {"data": {"name": "bF"}, "transform": [{"filter": "datum.k == 'p'"}], "mark": {"type": "area", "color": "#f4a2a2", "opacity": 1}, "encoding": {"y2": {"field": "lo"}, "detail": {"field": "g"}}},
       {"data": {"name": "bF"}, "transform": [{"filter": "datum.k == 'b'"}], "mark": {"type": "area", "color": "#8db9ef", "opacity": 1}, "encoding": {"y2": {"field": "lo"}, "detail": {"field": "g"}}},
       {"data": {"name": "bL"}, "mark": {"type": "line", "strokeWidth": 1.2, "clip": true}, "encoding": {"color": {"field": "s", "type": "nominal", "scale": {"domain": ["FeS2","NiS2","FeNiS","bg1","bg2","k","m","o"], "range": ["#de2a2a","#2a2ad8","#3ddc3d","#b8b8b8","#b8b8b8","#111111","#e2348f","#f0a030"]}, "legend": null}}},
       {"data": {"name": "bT"}, "transform": [{"filter": "datum.r == 'name'"}], "mark": {"type": "text", "align": "left", "baseline": "middle", "fontSize": 13}, "encoding": {"text": {"field": "t"}, "color": {"field": "c", "type": "nominal", "scale": {"domain": ["FeS2","NiS2","FeNiS","bg1","bg2","k","m","o"], "range": ["#de2a2a","#2a2ad8","#3ddc3d","#b8b8b8","#b8b8b8","#111111","#e2348f","#f0a030"]}, "legend": null}}},
       {"data": {"name": "bT"}, "transform": [{"filter": "datum.r == 'nsub'"}], "mark": {"type": "text", "align": "left", "baseline": "middle", "fontSize": 9}, "encoding": {"text": {"field": "t"}, "color": {"field": "c", "type": "nominal", "scale": {"domain": ["FeS2","NiS2","FeNiS","bg1","bg2","k","m","o"], "range": ["#de2a2a","#2a2ad8","#3ddc3d","#b8b8b8","#b8b8b8","#111111","#e2348f","#f0a030"]}, "legend": null}}},
       {"data": {"name": "bT"}, "transform": [{"filter": "datum.r == 'lab'"}], "mark": {"type": "text", "align": "left", "baseline": "middle", "fontSize": 10.5}, "encoding": {"text": {"field": "t"}, "color": {"field": "c", "type": "nominal", "scale": {"domain": ["FeS2","NiS2","FeNiS","bg1","bg2","k","m","o"], "range": ["#de2a2a","#2a2ad8","#3ddc3d","#b8b8b8","#b8b8b8","#111111","#e2348f","#f0a030"]}, "legend": null}}},
       {"data": {"name": "bT"}, "transform": [{"filter": "datum.r == 'lsub'"}], "mark": {"type": "text", "align": "left", "baseline": "middle", "fontSize": 7}, "encoding": {"text": {"field": "t"}, "color": {"field": "c", "type": "nominal", "scale": {"domain": ["FeS2","NiS2","FeNiS","bg1","bg2","k","m","o"], "range": ["#de2a2a","#2a2ad8","#3ddc3d","#b8b8b8","#b8b8b8","#111111","#e2348f","#f0a030"]}, "legend": null}}},
       {"data": {"name": "bT"}, "transform": [{"filter": "datum.r == 'core'"}], "mark": {"type": "text", "align": "left", "baseline": "middle", "fontSize": 11}, "encoding": {"text": {"field": "t"}, "color": {"field": "c", "type": "nominal", "scale": {"domain": ["FeS2","NiS2","FeNiS","bg1","bg2","k","m","o"], "range": ["#de2a2a","#2a2ad8","#3ddc3d","#b8b8b8","#b8b8b8","#111111","#e2348f","#f0a030"]}, "legend": null}}}
     ]}
  ]},
  {"spacing": 7, "hconcat": [
    {"width": 201, "height": 155,
     "title": {"text": "c", "fontWeight": "bold"},
     "encoding": {
       "x": {"field": "x", "type": "quantitative", "scale": {"domain": [700, 740], "nice": false, "zero": false}, "axis": {"title": "Binding energy (eV)", "labelPadding": 5, "values": [700,705,710,715,720,725,730,735,740], "labelExpr": "datum.value % 10 === 0 ? datum.label : ''"}},
       "y": {"field": "y", "type": "quantitative", "scale": {"domain": [-4, 151], "nice": false, "zero": false}, "axis": {"title": "Intensity (a.u.)"}}
     },
     "layer": [
       {"data": {"name": "cF"}, "transform": [{"filter": "datum.k == 'y'"}], "mark": {"type": "area", "color": "#f2ec6c", "opacity": 1}, "encoding": {"y2": {"field": "lo"}, "detail": {"field": "g"}}},
       {"data": {"name": "cF"}, "transform": [{"filter": "datum.k == 'p'"}], "mark": {"type": "area", "color": "#f4a2a2", "opacity": 1}, "encoding": {"y2": {"field": "lo"}, "detail": {"field": "g"}}},
       {"data": {"name": "cF"}, "transform": [{"filter": "datum.k == 'b'"}], "mark": {"type": "area", "color": "#8db9ef", "opacity": 1}, "encoding": {"y2": {"field": "lo"}, "detail": {"field": "g"}}},
       {"data": {"name": "cL"}, "mark": {"type": "line", "strokeWidth": 1.2, "clip": true}, "encoding": {"color": {"field": "s", "type": "nominal", "scale": {"domain": ["FeS2","NiS2","FeNiS","bg1","bg2","k","m","o"], "range": ["#de2a2a","#2a2ad8","#3ddc3d","#b8b8b8","#b8b8b8","#111111","#e2348f","#f0a030"]}, "legend": null}}},
       {"data": {"name": "cT"}, "transform": [{"filter": "datum.r == 'name'"}], "mark": {"type": "text", "align": "left", "baseline": "middle", "fontSize": 13.5}, "encoding": {"text": {"field": "t"}, "color": {"field": "c", "type": "nominal", "scale": {"domain": ["FeS2","NiS2","FeNiS","bg1","bg2","k","m","o"], "range": ["#de2a2a","#2a2ad8","#3ddc3d","#b8b8b8","#b8b8b8","#111111","#e2348f","#f0a030"]}, "legend": null}}},
       {"data": {"name": "cT"}, "transform": [{"filter": "datum.r == 'nsub'"}], "mark": {"type": "text", "align": "left", "baseline": "middle", "fontSize": 9}, "encoding": {"text": {"field": "t"}, "color": {"field": "c", "type": "nominal", "scale": {"domain": ["FeS2","NiS2","FeNiS","bg1","bg2","k","m","o"], "range": ["#de2a2a","#2a2ad8","#3ddc3d","#b8b8b8","#b8b8b8","#111111","#e2348f","#f0a030"]}, "legend": null}}},
       {"data": {"name": "cT"}, "transform": [{"filter": "datum.r == 'lab'"}], "mark": {"type": "text", "align": "left", "baseline": "middle", "fontSize": 10.5}, "encoding": {"text": {"field": "t"}, "color": {"field": "c", "type": "nominal", "scale": {"domain": ["FeS2","NiS2","FeNiS","bg1","bg2","k","m","o"], "range": ["#de2a2a","#2a2ad8","#3ddc3d","#b8b8b8","#b8b8b8","#111111","#e2348f","#f0a030"]}, "legend": null}}},
       {"data": {"name": "cT"}, "transform": [{"filter": "datum.r == 'lsub'"}], "mark": {"type": "text", "align": "left", "baseline": "middle", "fontSize": 7}, "encoding": {"text": {"field": "t"}, "color": {"field": "c", "type": "nominal", "scale": {"domain": ["FeS2","NiS2","FeNiS","bg1","bg2","k","m","o"], "range": ["#de2a2a","#2a2ad8","#3ddc3d","#b8b8b8","#b8b8b8","#111111","#e2348f","#f0a030"]}, "legend": null}}},
       {"data": {"name": "cT"}, "transform": [{"filter": "datum.r == 'core'"}], "mark": {"type": "text", "align": "left", "baseline": "middle", "fontSize": 12}, "encoding": {"text": {"field": "t"}, "color": {"field": "c", "type": "nominal", "scale": {"domain": ["FeS2","NiS2","FeNiS","bg1","bg2","k","m","o"], "range": ["#de2a2a","#2a2ad8","#3ddc3d","#b8b8b8","#b8b8b8","#111111","#e2348f","#f0a030"]}, "legend": null}}}
     ]},
    {"width": 202, "height": 155,
     "title": {"text": "d"},
     "encoding": {
       "x": {"field": "x", "type": "quantitative", "scale": {"domain": [157, 174], "nice": false, "zero": false}, "axis": {"title": "Binding energy (eV)", "labelPadding": 5, "values": [157.5,159,160.5,162,163.5,165,166.5,168,169.5,171,172.5,174], "labelExpr": "datum.value % 3 === 0 ? datum.label : ''"}},
       "y": {"field": "y", "type": "quantitative", "scale": {"domain": [-4, 151], "nice": false, "zero": false}, "axis": {"title": "Intensity (a.u.)"}}
     },
     "layer": [
       {"data": {"name": "dF"}, "transform": [{"filter": "datum.k == 'y'"}], "mark": {"type": "area", "color": "#f2ec6c", "opacity": 1}, "encoding": {"y2": {"field": "lo"}, "detail": {"field": "g"}}},
       {"data": {"name": "dF"}, "transform": [{"filter": "datum.k == 'p'"}], "mark": {"type": "area", "color": "#f4a2a2", "opacity": 1}, "encoding": {"y2": {"field": "lo"}, "detail": {"field": "g"}}},
       {"data": {"name": "dF"}, "transform": [{"filter": "datum.k == 'b'"}], "mark": {"type": "area", "color": "#8db9ef", "opacity": 1}, "encoding": {"y2": {"field": "lo"}, "detail": {"field": "g"}}},
       {"data": {"name": "dL"}, "mark": {"type": "line", "strokeWidth": 1.2, "clip": true}, "encoding": {"color": {"field": "s", "type": "nominal", "scale": {"domain": ["FeS2","NiS2","FeNiS","bg1","bg2","k","m","o"], "range": ["#de2a2a","#2a2ad8","#3ddc3d","#b8b8b8","#b8b8b8","#111111","#e2348f","#f0a030"]}, "legend": null}}},
       {"data": {"name": "dT"}, "transform": [{"filter": "datum.r == 'name'"}], "mark": {"type": "text", "align": "left", "baseline": "middle", "fontSize": 13.5}, "encoding": {"text": {"field": "t"}, "color": {"field": "c", "type": "nominal", "scale": {"domain": ["FeS2","NiS2","FeNiS","bg1","bg2","k","m","o"], "range": ["#de2a2a","#2a2ad8","#3ddc3d","#b8b8b8","#b8b8b8","#111111","#e2348f","#f0a030"]}, "legend": null}}},
       {"data": {"name": "dT"}, "transform": [{"filter": "datum.r == 'nsub'"}], "mark": {"type": "text", "align": "left", "baseline": "middle", "fontSize": 9}, "encoding": {"text": {"field": "t"}, "color": {"field": "c", "type": "nominal", "scale": {"domain": ["FeS2","NiS2","FeNiS","bg1","bg2","k","m","o"], "range": ["#de2a2a","#2a2ad8","#3ddc3d","#b8b8b8","#b8b8b8","#111111","#e2348f","#f0a030"]}, "legend": null}}},
       {"data": {"name": "dT"}, "transform": [{"filter": "datum.r == 'lab'"}], "mark": {"type": "text", "align": "left", "baseline": "middle", "fontSize": 10.5}, "encoding": {"text": {"field": "t"}, "color": {"field": "c", "type": "nominal", "scale": {"domain": ["FeS2","NiS2","FeNiS","bg1","bg2","k","m","o"], "range": ["#de2a2a","#2a2ad8","#3ddc3d","#b8b8b8","#b8b8b8","#111111","#e2348f","#f0a030"]}, "legend": null}}},
       {"data": {"name": "dT"}, "transform": [{"filter": "datum.r == 'lsub'"}], "mark": {"type": "text", "align": "left", "baseline": "middle", "fontSize": 7}, "encoding": {"text": {"field": "t"}, "color": {"field": "c", "type": "nominal", "scale": {"domain": ["FeS2","NiS2","FeNiS","bg1","bg2","k","m","o"], "range": ["#de2a2a","#2a2ad8","#3ddc3d","#b8b8b8","#b8b8b8","#111111","#e2348f","#f0a030"]}, "legend": null}}},
       {"data": {"name": "dT"}, "transform": [{"filter": "datum.r == 'core'"}], "mark": {"type": "text", "align": "left", "baseline": "middle", "fontSize": 12}, "encoding": {"text": {"field": "t"}, "color": {"field": "c", "type": "nominal", "scale": {"domain": ["FeS2","NiS2","FeNiS","bg1","bg2","k","m","o"], "range": ["#de2a2a","#2a2ad8","#3ddc3d","#b8b8b8","#b8b8b8","#111111","#e2348f","#f0a030"]}, "legend": null}}}
     ]}
  ]}
]
}
